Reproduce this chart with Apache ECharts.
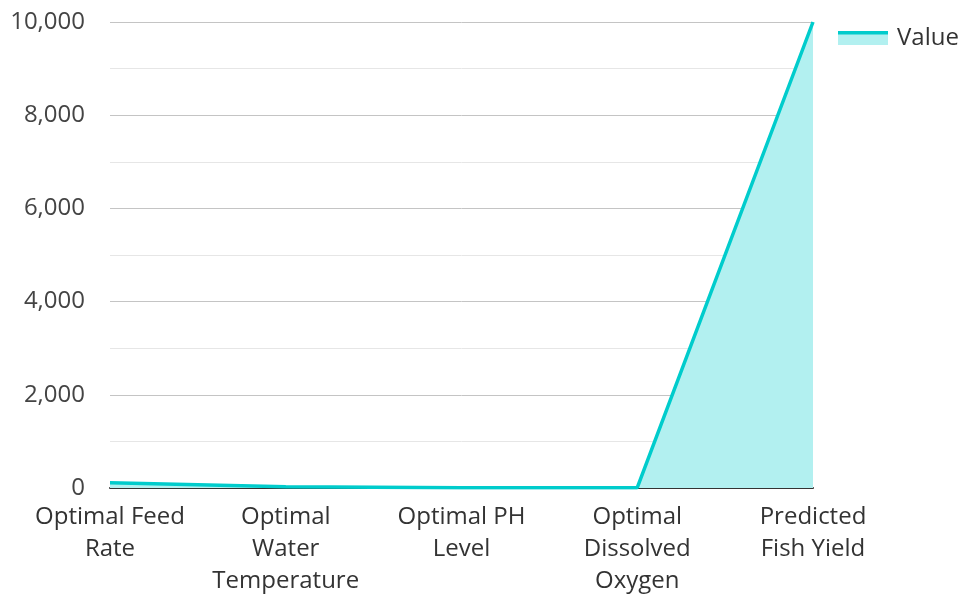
<!DOCTYPE html>
<html>
<head>
<meta charset="utf-8">
<script src="https://cdn.jsdelivr.net/npm/echarts@6/dist/echarts.min.js"></script>
<style>
  html, body { margin: 0; padding: 0; background: #fff; }
  #main { width: 963px; height: 595px; }
</style>
</head>
<body>
<div id="main"></div>
<script>
// chart data
const categories = ['Optimal Feed Rate', 'Optimal Water Temperature', 'Optimal PH Level', 'Optimal Dissolved Oxygen', 'Predicted Fish Yield'];
const tickLabels = ['Optimal Feed\nRate', 'Optimal\nWater\nTemperature', 'Optimal PH\nLevel', 'Optimal\nDissolved\nOxygen', 'Predicted\nFish Yield'];
const values = [110, 25, 7, 6, 10000];

const lineColor = '#00cccc';
const fillColor = '#b2f0f0';

// legend swatch: line on top, area below
const legendSvg = '<svg xmlns="http://www.w3.org/2000/svg" width="50" height="14">' +
  '<rect x="0" y="0" width="50" height="14" fill="#b2f0f0"/>' +
  '<rect x="0" y="0" width="50" height="3.5" fill="#00cccc"/></svg>';
const legendIcon = 'image://data:image/svg+xml;charset=utf-8,' + encodeURIComponent(legendSvg);

const myChart = echarts.init(document.getElementById('main'));

const option = {
  backgroundColor: '#fff',
  textStyle: { fontFamily: '"Open Sans", "Noto Sans", sans-serif' },
  legend: {
    left: 838,
    top: 26,
    padding: 0,
    itemWidth: 50,
    itemHeight: 14,
    itemGap: 10,
    icon: legendIcon,
    textStyle: { fontSize: 24, color: '#333', padding: [0, 0, 0, 4] },
    data: ['Value']
  },
  grid: {
    left: 110,
    right: 150,
    top: 22,
    bottom: 107,
    outerBoundsMode: 'none'
  },
  xAxis: {
    type: 'category',
    boundaryGap: false,
    data: categories,
    axisLine: { lineStyle: { color: '#333', width: 2 } },
    axisTick: { show: false },
    axisLabel: {
      fontSize: 24,
      color: '#333',
      lineHeight: 32,
      margin: 13,
      interval: 0,
      formatter: (v, i) => tickLabels[i]
    },
    splitLine: { show: false }
  },
  yAxis: {
    type: 'value',
    min: 0,
    max: 10000,
    interval: 2000,
    axisLine: { show: false },
    axisTick: { show: false },
    axisLabel: {
      fontSize: 24,
      color: '#444',
      margin: 25,
      formatter: v => v.toLocaleString('en-US')
    },
    splitLine: { lineStyle: { color: '#c4c4c4', width: 1 } },
    minorTick: { show: false, splitNumber: 2 },
    minorSplitLine: { show: true, lineStyle: { color: '#e6e6e6', width: 1 } }
  },
  series: [{
    name: 'Value',
    type: 'line',
    data: values,
    showSymbol: false,
    symbol: 'none',
    lineStyle: { color: lineColor, width: 3.5 },
    itemStyle: { color: lineColor },
    areaStyle: { color: fillColor, opacity: 1 },
    z: 3
  }]
};

myChart.setOption(option);
</script>
</body>
</html>
